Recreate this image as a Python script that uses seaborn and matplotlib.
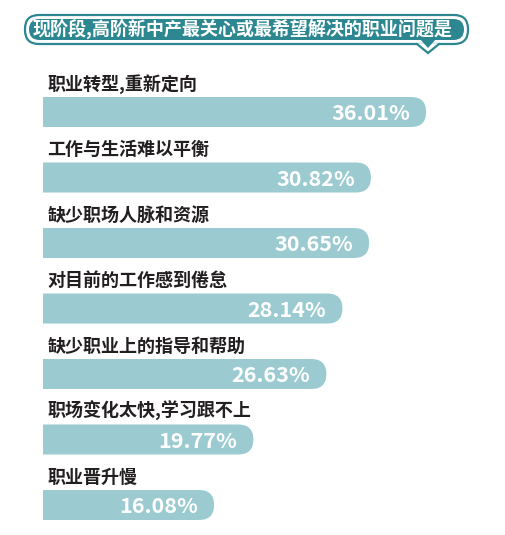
import matplotlib
matplotlib.use("Agg")
import matplotlib.pyplot as plt
import seaborn as sns
import pandas as pd
from matplotlib.patches import FancyBboxPatch, Polygon

title = "现阶段,高阶新中产最关心或最希望解决的职业问题是"
categories = ["职业转型,重新定向", "工作与生活难以平衡", "缺少职场人脉和资源",
              "对目前的工作感到倦怠", "缺少职业上的指导和帮助", "职场变化太快,学习跟不上",
              "职业晋升慢"]
values = [36.01, 30.82, 30.65, 28.14, 26.63, 19.77, 16.08]
value_labels = ["36.01%", "30.82%", "30.65%", "28.14%", "26.63%", "19.77%", "16.08%"]

sns.set_theme(style="white")
plt.rcParams['font.family'] = ['Noto Sans CJK SC', 'DejaVu Sans']

W, H = 505, 535
fig = plt.figure(figsize=(W / 100, H / 100), dpi=100)
fig.patch.set_facecolor("white")

BAR_COLOR = "#9bcbd1"
TEAL = "#2c8791"

# geometry in pixels
x0_px = 43
px_per_unit = 10.64
row_px = 65.5
first_center = 112
bar_h_px = 30

ax = fig.add_axes([x0_px / W, 0, 1 - x0_px / W, 1])
df = pd.DataFrame({"cat": categories, "val": values})
sns.barplot(data=df, x="val", y="cat", orient="h", color=BAR_COLOR,
            width=bar_h_px / row_px, ax=ax, saturation=1)
xmax = (W - x0_px) / px_per_unit
ax.set_xlim(0, xmax)
ax.set_ylim((H - first_center) / row_px, -first_center / row_px)
ax.axis("off")

aspect = px_per_unit / row_px
r_x = (bar_h_px / 2) / px_per_unit
for p, lab, v, vl in zip(list(ax.patches), categories, values, value_labels):
    x, y, w, h = p.get_x(), p.get_y(), p.get_width(), p.get_height()
    p.set_visible(False)
    fb = FancyBboxPatch((x - 3 * r_x, y), w + 3 * r_x, h,
                        boxstyle=f"round,pad=0,rounding_size={r_x}",
                        mutation_aspect=aspect, facecolor=BAR_COLOR,
                        edgecolor="none", clip_on=True)
    ax.add_patch(fb)
    yc = y + h / 2
    ax.text(v - 1.5, yc + 0.03, vl, ha="right", va="center", color="white",
            fontsize=15.5, fontweight="bold")
    ax.text(0.4, y - 0.05, lab, ha="left", va="bottom", color="#231f20",
            fontsize=13, fontweight="bold", clip_on=False)

# title banner in pixel coordinates
oax = fig.add_axes([0, 0, 1, 1], zorder=5)
oax.set_xlim(0, W)
oax.set_ylim(H, 0)
oax.axis("off")
oax.patch.set_alpha(0)

outer = FancyBboxPatch((25, 15), 443, 29, boxstyle="round,pad=0,rounding_size=14",
                       facecolor="white", edgecolor=TEAL, linewidth=1.6)
oax.add_patch(outer)
tri_out = Polygon([(417, 43.2), (439, 43.2), (428, 53)], closed=True,
                  facecolor="white", edgecolor="none")
oax.add_patch(tri_out)
oax.plot([417, 428, 439], [44, 53, 44], color=TEAL, lw=1.6, solid_joinstyle="miter")
inner = FancyBboxPatch((29, 19), 435, 21, boxstyle="round,pad=0,rounding_size=10.5",
                       facecolor=TEAL, edgecolor="none")
oax.add_patch(inner)
tri_in = Polygon([(420, 39), (436, 39), (428, 48)], closed=True,
                 facecolor=TEAL, edgecolor="none")
oax.add_patch(tri_in)
oax.text(243, 30, title, ha="center", va="center", color="white",
         fontsize=13, fontweight="bold")

fig.savefig("out.png", dpi=100, facecolor="white")
